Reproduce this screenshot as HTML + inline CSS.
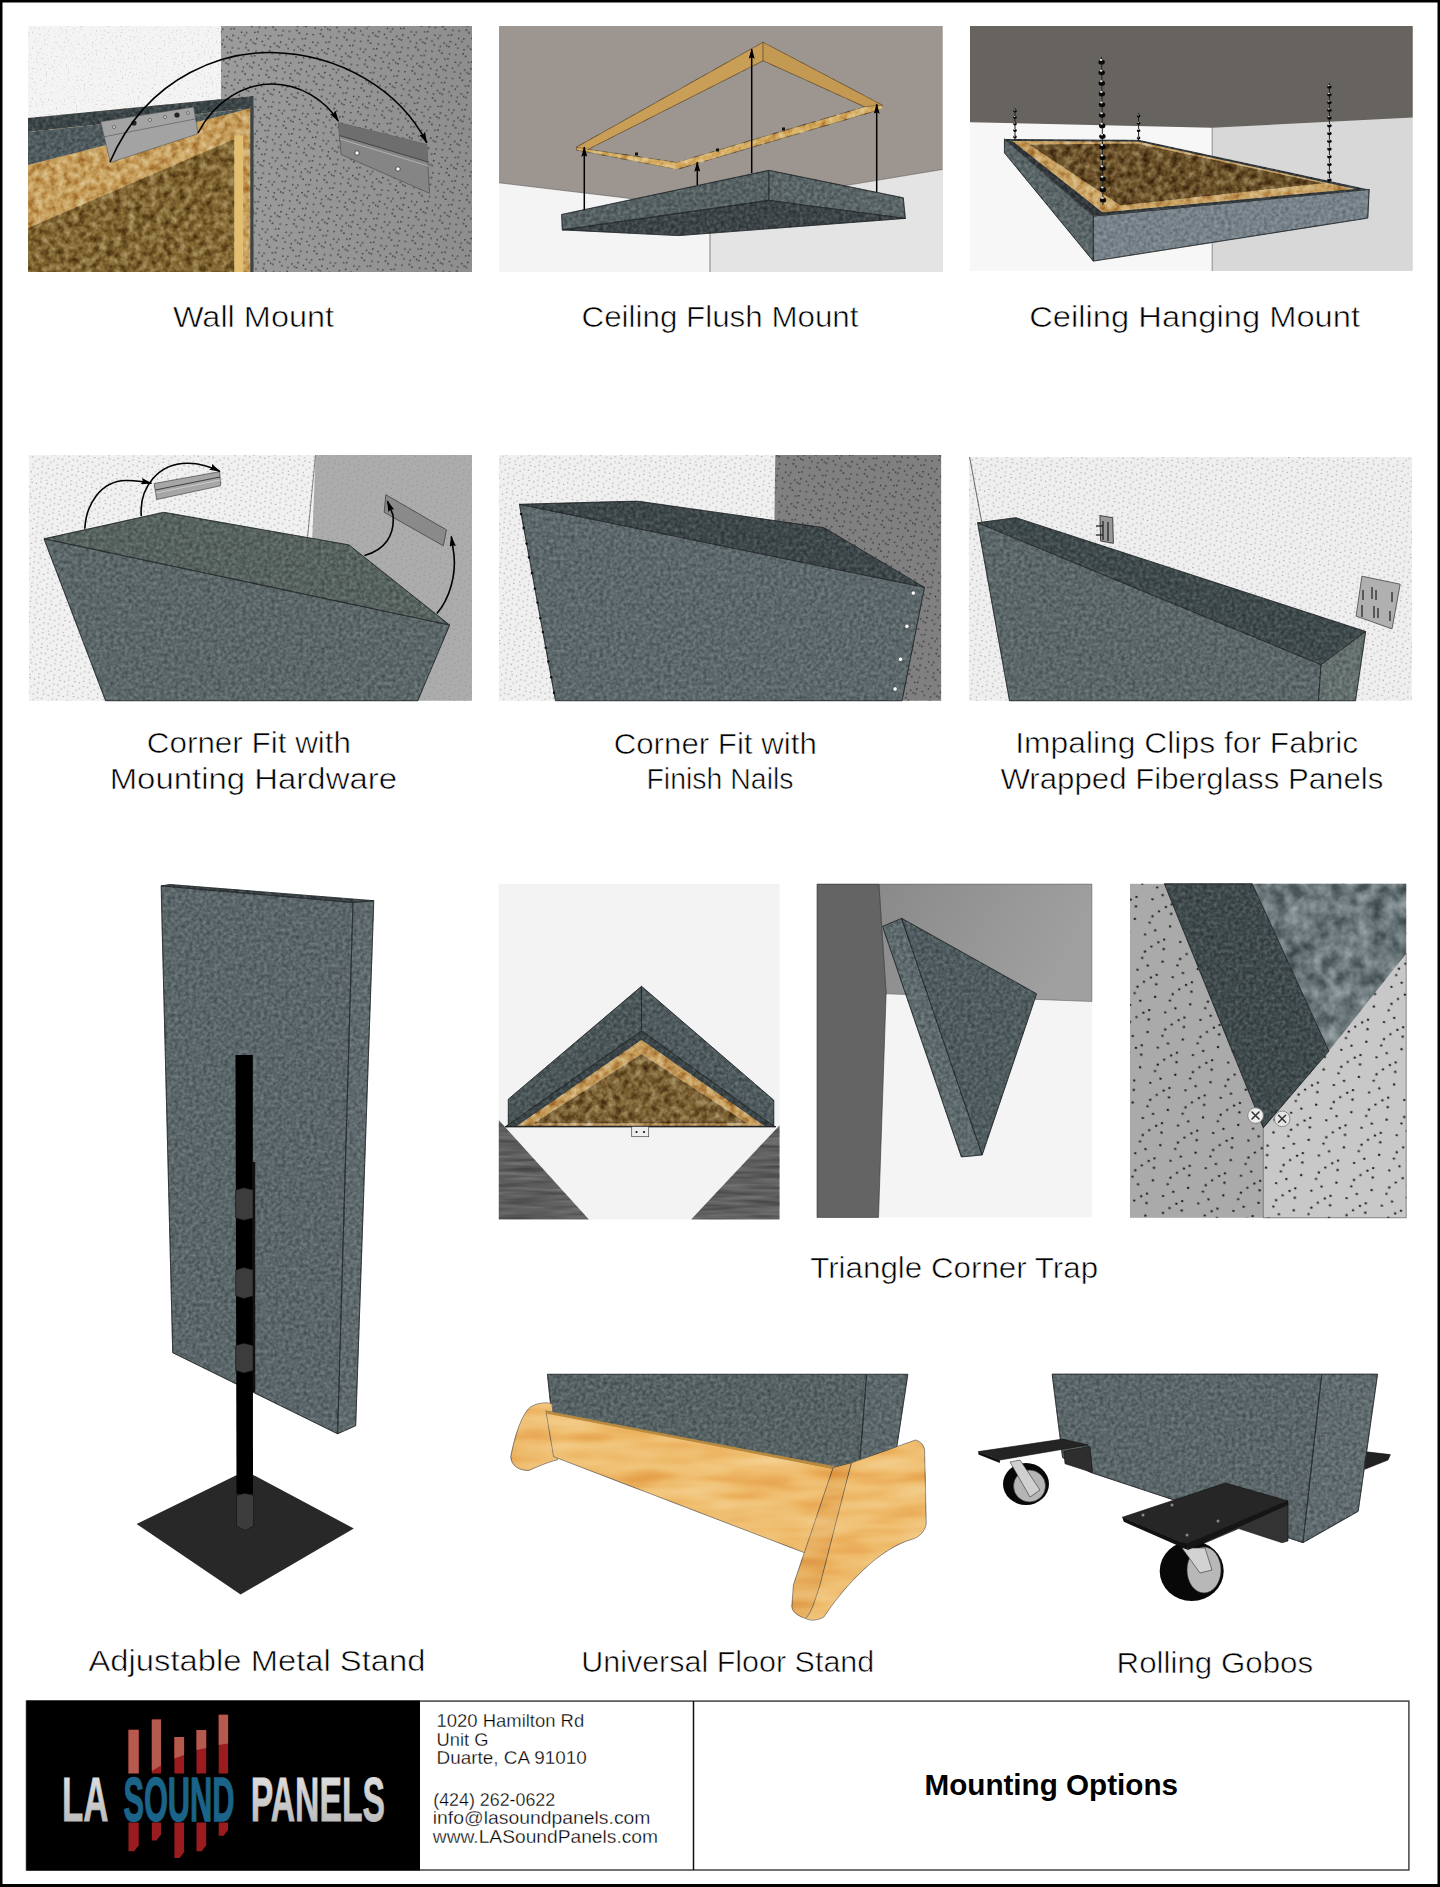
<!DOCTYPE html>
<html><head><meta charset="utf-8">
<style>
html,body{margin:0;padding:0;background:#fff;}
body{width:1440px;height:1887px;position:relative;overflow:hidden;font-family:"Liberation Sans",sans-serif;}
svg{position:absolute;left:0;top:0;}
</style></head>
<body>
<svg width="1440" height="1887" viewBox="0 0 1440 1887">
<defs>
<marker id="ah" viewBox="0 0 14 8" refX="13" refY="4" markerWidth="7" markerHeight="4" orient="auto-start-reverse"><path d="M0,0 L14,4 L0,8 L2,4 z" fill="#000"/></marker>
<filter id="fab" x="0" y="0" width="100%" height="100%" color-interpolation-filters="sRGB">
 <feTurbulence type="fractalNoise" baseFrequency="0.28" numOctaves="2" seed="2" result="t"/>
 <feColorMatrix in="t" type="matrix" values="0.6 0 0 0 0.2  0.6 0 0 0 0.2  0.6 0 0 0 0.2  0 0 0 0 1" result="g"/>
 <feBlend in="g" in2="SourceGraphic" mode="soft-light" result="b"/>
 <feComposite in="b" in2="SourceGraphic" operator="in"/>
</filter>
<filter id="osb" x="0" y="0" width="100%" height="100%" color-interpolation-filters="sRGB">
 <feTurbulence type="fractalNoise" baseFrequency="0.14" numOctaves="3" seed="9" result="t"/>
 <feColorMatrix in="t" type="matrix" values="1.3 0 0 0 -0.15  1.3 0 0 0 -0.15  1.3 0 0 0 -0.15  0 0 0 0 1" result="g"/>
 <feBlend in="g" in2="SourceGraphic" mode="soft-light" result="b"/>
 <feComposite in="b" in2="SourceGraphic" operator="in"/>
</filter>
<filter id="dots" x="0" y="0" width="100%" height="100%" color-interpolation-filters="sRGB">
 <feTurbulence type="fractalNoise" baseFrequency="0.42" numOctaves="1" seed="5" result="t"/>
 <feColorMatrix in="t" type="matrix" values="0 0 0 0 0  0 0 0 0 0  0 0 0 0 0  -7 0 0 0 2.5" result="a"/>
 <feFlood flood-color="#3a3a3a" flood-opacity="0.55" result="f"/>
 <feComposite in="f" in2="a" operator="in" result="fd"/>
 <feComposite in="fd" in2="SourceGraphic" operator="in" result="d"/>
 <feMerge><feMergeNode in="SourceGraphic"/><feMergeNode in="d"/></feMerge>
</filter>
<filter id="bigdots" x="0" y="0" width="100%" height="100%" color-interpolation-filters="sRGB">
 <feTurbulence type="fractalNoise" baseFrequency="0.22" numOctaves="1" seed="11" result="t"/>
 <feColorMatrix in="t" type="matrix" values="0 0 0 0 0  0 0 0 0 0  0 0 0 0 0  -9 0 0 0 2.9" result="a"/>
 <feFlood flood-color="#222" flood-opacity="0.8" result="f"/>
 <feComposite in="f" in2="a" operator="in" result="fd"/>
 <feComposite in="fd" in2="SourceGraphic" operator="in" result="d"/>
 <feMerge><feMergeNode in="SourceGraphic"/><feMergeNode in="d"/></feMerge>
</filter>
<filter id="ldots" x="0" y="0" width="100%" height="100%" color-interpolation-filters="sRGB">
 <feTurbulence type="fractalNoise" baseFrequency="0.5" numOctaves="1" seed="3" result="t"/>
 <feColorMatrix in="t" type="matrix" values="0 0 0 0 0  0 0 0 0 0  0 0 0 0 0  -6 0 0 0 2.4" result="a"/>
 <feFlood flood-color="#666" flood-opacity="0.18" result="f"/>
 <feComposite in="f" in2="a" operator="in" result="fd"/>
 <feComposite in="fd" in2="SourceGraphic" operator="in" result="d"/>
 <feMerge><feMergeNode in="SourceGraphic"/><feMergeNode in="d"/></feMerge>
</filter>
<linearGradient id="lgray" x1="0" y1="0" x2="0" y2="1"><stop offset="0" stop-color="#e6e6e6"/><stop offset="1" stop-color="#b4b4b4"/></linearGradient>
<pattern id="pdots" x="0" y="0" width="36" height="36" patternUnits="userSpaceOnUse" patternTransform="rotate(12)"><ellipse cx="3.6" cy="2.4" rx="1.3" ry="1.1" fill="#1a1a1a"/><ellipse cx="5.1" cy="14.9" rx="1.3" ry="1.1" fill="#1a1a1a"/><ellipse cx="2.1" cy="29.1" rx="1.3" ry="1.1" fill="#1a1a1a"/><ellipse cx="21.8" cy="8.7" rx="1.3" ry="1.1" fill="#1a1a1a"/><ellipse cx="20.4" cy="15.5" rx="1.3" ry="1.1" fill="#1a1a1a"/><ellipse cx="18.3" cy="28.0" rx="1.3" ry="1.1" fill="#1a1a1a"/><ellipse cx="27.1" cy="2.5" rx="1.3" ry="1.1" fill="#1a1a1a"/><ellipse cx="27.4" cy="21.8" rx="1.3" ry="1.1" fill="#1a1a1a"/><ellipse cx="33.0" cy="32.8" rx="1.3" ry="1.1" fill="#1a1a1a"/></pattern>
<filter id="fabbig" x="0" y="0" width="100%" height="100%" color-interpolation-filters="sRGB">
 <feTurbulence type="fractalNoise" baseFrequency="0.07" numOctaves="3" seed="4" result="t"/>
 <feColorMatrix in="t" type="matrix" values="1.2 0 0 0 -0.1  1.2 0 0 0 -0.1  1.2 0 0 0 -0.1  0 0 0 0 1" result="g"/>
 <feBlend in="g" in2="SourceGraphic" mode="soft-light" result="b"/>
 <feComposite in="b" in2="SourceGraphic" operator="in"/>
</filter>
<pattern id="gdots" x="0" y="0" width="24" height="24" patternUnits="userSpaceOnUse" patternTransform="rotate(8)"><circle cx="1.46" cy="4.46" r="0.8" fill="#2a2a2a"/><circle cx="4.11" cy="7.97" r="0.8" fill="#2a2a2a"/><circle cx="2.98" cy="14.79" r="0.8" fill="#2a2a2a"/><circle cx="3.64" cy="22.21" r="0.8" fill="#2a2a2a"/><circle cx="7.29" cy="1.02" r="0.8" fill="#2a2a2a"/><circle cx="10.41" cy="8.72" r="0.8" fill="#2a2a2a"/><circle cx="10.10" cy="12.91" r="0.8" fill="#2a2a2a"/><circle cx="8.77" cy="21.93" r="0.8" fill="#2a2a2a"/><circle cx="13.86" cy="4.87" r="0.8" fill="#2a2a2a"/><circle cx="16.69" cy="7.03" r="0.8" fill="#2a2a2a"/><circle cx="13.01" cy="15.17" r="0.8" fill="#2a2a2a"/><circle cx="16.84" cy="20.50" r="0.8" fill="#2a2a2a"/><circle cx="19.81" cy="2.67" r="0.8" fill="#2a2a2a"/><circle cx="19.02" cy="7.83" r="0.8" fill="#2a2a2a"/><circle cx="20.74" cy="14.98" r="0.8" fill="#2a2a2a"/><circle cx="19.88" cy="19.87" r="0.8" fill="#2a2a2a"/></pattern>
<pattern id="wdots" x="0" y="0" width="15" height="15" patternUnits="userSpaceOnUse" patternTransform="rotate(5)"><circle cx="4.10" cy="4.07" r="0.6" fill="#8a8a8a"/><circle cx="0.95" cy="6.05" r="0.6" fill="#8a8a8a"/><circle cx="3.67" cy="13.33" r="0.6" fill="#8a8a8a"/><circle cx="8.09" cy="1.83" r="0.6" fill="#8a8a8a"/><circle cx="7.87" cy="7.87" r="0.6" fill="#8a8a8a"/><circle cx="7.78" cy="11.30" r="0.6" fill="#8a8a8a"/><circle cx="12.26" cy="2.13" r="0.6" fill="#8a8a8a"/><circle cx="13.28" cy="9.23" r="0.6" fill="#8a8a8a"/><circle cx="14.07" cy="12.65" r="0.6" fill="#8a8a8a"/></pattern>
<filter id="wood" x="0" y="0" width="100%" height="100%" color-interpolation-filters="sRGB">
 <feTurbulence type="fractalNoise" baseFrequency="0.015 0.07" numOctaves="2" seed="12" result="t"/>
 <feColorMatrix in="t" type="matrix" values="0.8 0 0 0 0.1  0.8 0 0 0 0.1  0.8 0 0 0 0.1  0 0 0 0 1" result="g"/>
 <feBlend in="g" in2="SourceGraphic" mode="soft-light" result="b"/>
 <feComposite in="b" in2="SourceGraphic" operator="in"/>
</filter>
<filter id="streak" x="0" y="0" width="100%" height="100%" color-interpolation-filters="sRGB">
 <feTurbulence type="fractalNoise" baseFrequency="0.02 0.25" numOctaves="2" seed="21" result="t"/>
 <feColorMatrix in="t" type="matrix" values="0.6 0 0 0 0.2  0.6 0 0 0 0.2  0.6 0 0 0 0.2  0 0 0 0 1" result="g"/>
 <feBlend in="g" in2="SourceGraphic" mode="soft-light" result="b"/>
 <feComposite in="b" in2="SourceGraphic" operator="in"/>
</filter>
<linearGradient id="ceil9" x1="0" y1="0" x2="1" y2="0.3"><stop offset="0" stop-color="#8a8a8a"/><stop offset="1" stop-color="#a0a0a0"/></linearGradient>
<linearGradient id="wall1" x1="0" y1="0" x2="1" y2="0"><stop offset="0" stop-color="#9c9c9c"/><stop offset="1" stop-color="#8e8e8e"/></linearGradient>
</defs>
<!-- page border -->
<rect x="0" y="0" width="1440" height="2.5" fill="#000"/>
<rect x="0" y="0" width="2.5" height="1887" fill="#000"/>
<rect x="1437.5" y="0" width="2.5" height="1887" fill="#000"/>
<rect x="0" y="1884" width="1440" height="3" fill="#000"/>

<!-- IMG1 wall mount -->
<g id="img1">
<rect x="28" y="26" width="444" height="246" fill="#f4f4f4" filter="url(#ldots)"/>
<rect x="221" y="26" width="251" height="246" fill="url(#wall1)"/><rect x="221" y="26" width="251" height="246" fill="url(#gdots)"/>
<polygon filter="url(#osb)" points="28,118 253.5,96 253.5,272 28,272" fill="#c79f5c"/>
<polygon filter="url(#fab)" points="28,118 253.5,96 250,108.5 28,132" fill="#3b4548"/>
<polygon filter="url(#fab)" points="28,132 250,108.5 28,165" fill="#4f5b5e"/>
<polygon filter="url(#osb)" points="28,228 234.4,139 234.4,272 28,272" fill="#806530"/>
<rect x="234.4" y="135.6" width="8.7" height="136.4" fill="#e3bf72"/>
<rect x="250.3" y="96" width="3.2" height="176" fill="#3b4548"/>
<polygon points="100.7,121.7 193.6,107 198,133.8 110.3,162.5" fill="#a3a3a3" stroke="#555" stroke-width="0.6"/>
<line x1="103" y1="137" x2="195" y2="119" stroke="#666" stroke-width="0.8"/>
<g fill="#ddd" stroke="#333" stroke-width="0.6"><circle cx="114" cy="127" r="1.5"/><circle cx="150" cy="120" r="1.5"/><circle cx="165" cy="117" r="1.5"/><circle cx="188" cy="113" r="1.4"/></g>
<circle cx="134" cy="123" r="2.6" fill="#222"/><circle cx="177" cy="115" r="2.6" fill="#222"/>
<polygon points="338.3,122.6 426.8,144.6 429.5,193.3 341,154.5" fill="#858585" stroke="#444" stroke-width="0.6"/>
<polygon points="338.3,122.6 426.8,144.6 428,162 339.5,135.5" fill="#6e6e6e"/>
<line x1="339.5" y1="135.5" x2="428" y2="162" stroke="#444" stroke-width="1"/>
<line x1="340" y1="139" x2="428.5" y2="166" stroke="#bbb" stroke-width="0.8"/>
<circle cx="357" cy="153" r="2.2" fill="#fff" stroke="#222" stroke-width="0.7"/><circle cx="398" cy="169" r="2.2" fill="#fff" stroke="#222" stroke-width="0.7"/>
<path d="M110,162 C150,70 230,52 272,52.5 C340,54 400,90 426.8,142.8" fill="none" stroke="#000" stroke-width="1.6" marker-end="url(#ah)"/>
<path d="M198,133 C215,100 245,84 272,84 C300,84 325,100 338.3,121" fill="none" stroke="#000" stroke-width="1.6" marker-end="url(#ah)"/>
</g>

<!-- IMG2 ceiling flush -->
<g id="img2">
<rect x="499" y="26" width="443.7" height="246" fill="#9d9590"/>
<polygon points="499,182.8 710,208 942.7,169.4 942.7,272 499,272" fill="#f4f4f4"/>
<polygon points="710,208 942.7,169.4 942.7,272 710,272" fill="#e4e4e4"/>
<line x1="710" y1="208" x2="710" y2="272" stroke="#666" stroke-width="0.8"/>
<polyline points="499,182.8 710,208 942.7,169.4" fill="none" stroke="#555" stroke-width="0.6"/>
<path d="M576.1,147.4 L763.1,42.3 L882.3,105.1 L882.3,109 L676.9,169.5 L576.1,150 Z M588.3,149.2 L676.9,162.2 L864.6,106.7 L763.1,60.7 Z" fill="#d6ae64" fill-rule="evenodd" stroke="#4a3a20" stroke-width="0.6" filter="url(#osb)"/>
<polygon points="763.1,42.3 763.1,60.7 588.3,149.2 576.1,147.4" fill="#c99f58" stroke="#4a3a20" stroke-width="0.5"/>
<polygon points="763.1,42.3 882.3,105.1 864.6,106.7 763.1,60.7" fill="#c49a52" stroke="#4a3a20" stroke-width="0.5"/>
<g fill="#111"><rect x="635" y="152.5" width="3" height="3"/><rect x="716" y="148.5" width="3" height="3"/><rect x="782" y="127.5" width="3" height="3"/></g>

<polygon filter="url(#fab)" points="561.6,214.5 768.9,170.3 768.9,200.4 562.3,229.9" fill="#566164" stroke="#222" stroke-width="0.6"/><polygon points="561.6,214.5 768.9,170.3 768.9,200.4 562.3,229.9" fill="none" stroke="#1e2426" stroke-width="0.7"/>
<polygon filter="url(#fab)" points="768.9,170.3 903.3,197.8 905.3,218.4 768.9,200.4" fill="#5a6568" stroke="#222" stroke-width="0.6"/><polygon points="768.9,170.3 903.3,197.8 905.3,218.4 768.9,200.4" fill="none" stroke="#1e2426" stroke-width="0.7"/>
<polygon filter="url(#fab)" points="562.3,229.9 768.9,200.4 905.3,218.4 678.5,235.6" fill="#3c4447" stroke="#222" stroke-width="0.6"/><polygon points="562.3,229.9 768.9,200.4 905.3,218.4 678.5,235.6" fill="none" stroke="#1e2426" stroke-width="0.7"/>
<g stroke="#000" stroke-width="1.5" marker-end="url(#ah)">
<line x1="584.3" y1="210" x2="584.3" y2="147"/>
<line x1="697.3" y1="185" x2="697.3" y2="162"/>
<line x1="751.7" y1="173" x2="751.7" y2="49"/>
<line x1="876.7" y1="192" x2="876.7" y2="104"/>
</g>
</g>

<!-- IMG3 ceiling hanging -->
<g id="img3">
<rect x="970" y="26" width="442.7" height="245" fill="#f7f7f7"/>
<rect x="1212.2" y="26" width="200.5" height="245" fill="#d8d8d8"/>
<line x1="1212.2" y1="127" x2="1212.2" y2="271" stroke="#777" stroke-width="0.8"/>
<polygon points="970,26 1412.7,26 1412.7,117.5 1212.2,127.8 970,122.2" fill="#67635e"/>
<polygon filter="url(#fab)" points="1004.4,138.9 1138.6,139.7 1369.2,189.4 1093.3,216.1" fill="#2f3538"/>
<polygon filter="url(#osb)" points="1012.2,141 1138,141.5 1355.3,188.9 1102.5,212.5" fill="#c9a262"/>
<polygon filter="url(#osb)" points="1028.9,144.4 1137.2,143.6 1323.3,183.3 1120.6,205.6" fill="#6a5028"/>
<polygon filter="url(#fab)" points="1093.3,216.1 1369.2,189.4 1367.8,218.1 1093.3,261.1" fill="#77828a" stroke="#222" stroke-width="0.6"/><polygon points="1093.3,216.1 1369.2,189.4 1367.8,218.1 1093.3,261.1" fill="none" stroke="#1e2426" stroke-width="0.7"/>
<polygon filter="url(#fab)" points="1004.4,138.9 1093.3,216.1 1093.3,261.1 1004.4,152.8" fill="#5a6568" stroke="#222" stroke-width="0.6"/><polygon points="1004.4,138.9 1093.3,216.1 1093.3,261.1 1004.4,152.8" fill="none" stroke="#1e2426" stroke-width="0.7"/>
<g id="chains"><g stroke="#222" stroke-width="1"><line x1="1101.6" y1="57" x2="1103" y2="205"/><line x1="1015" y1="108" x2="1015" y2="139"/><line x1="1138.6" y1="113" x2="1138.6" y2="140"/><line x1="1329.4" y1="83" x2="1329.4" y2="183"/></g><ellipse cx="1101.6" cy="62.0" rx="3.2" ry="2.6" fill="#080808"/><ellipse cx="1101.0" cy="60.1" rx="1.4" ry="1.0" fill="#ddd"/><ellipse cx="1101.7" cy="72.6" rx="3.2" ry="2.6" fill="#080808"/><ellipse cx="1101.1" cy="70.7" rx="1.4" ry="1.0" fill="#ddd"/><ellipse cx="1101.8" cy="83.2" rx="3.2" ry="2.6" fill="#080808"/><ellipse cx="1101.2" cy="81.3" rx="1.4" ry="1.0" fill="#ddd"/><ellipse cx="1101.9" cy="93.8" rx="3.2" ry="2.6" fill="#080808"/><ellipse cx="1101.3" cy="91.9" rx="1.4" ry="1.0" fill="#ddd"/><ellipse cx="1102.0" cy="104.5" rx="3.2" ry="2.6" fill="#080808"/><ellipse cx="1101.4" cy="102.5" rx="1.4" ry="1.0" fill="#ddd"/><ellipse cx="1102.1" cy="115.1" rx="3.2" ry="2.6" fill="#080808"/><ellipse cx="1101.5" cy="113.2" rx="1.4" ry="1.0" fill="#ddd"/><ellipse cx="1102.2" cy="125.7" rx="3.2" ry="2.6" fill="#080808"/><ellipse cx="1101.6" cy="123.8" rx="1.4" ry="1.0" fill="#ddd"/><ellipse cx="1102.4" cy="136.3" rx="3.2" ry="2.6" fill="#080808"/><ellipse cx="1101.7" cy="134.4" rx="1.4" ry="1.0" fill="#ddd"/><ellipse cx="1102.5" cy="146.9" rx="3.2" ry="2.6" fill="#080808"/><ellipse cx="1101.8" cy="145.0" rx="1.4" ry="1.0" fill="#ddd"/><ellipse cx="1102.6" cy="157.5" rx="3.2" ry="2.6" fill="#080808"/><ellipse cx="1101.9" cy="155.6" rx="1.4" ry="1.0" fill="#ddd"/><ellipse cx="1102.7" cy="168.2" rx="3.2" ry="2.6" fill="#080808"/><ellipse cx="1102.0" cy="166.2" rx="1.4" ry="1.0" fill="#ddd"/><ellipse cx="1102.8" cy="178.8" rx="3.2" ry="2.6" fill="#080808"/><ellipse cx="1102.1" cy="176.8" rx="1.4" ry="1.0" fill="#ddd"/><ellipse cx="1102.9" cy="189.4" rx="3.2" ry="2.6" fill="#080808"/><ellipse cx="1102.3" cy="187.5" rx="1.4" ry="1.0" fill="#ddd"/><ellipse cx="1103.0" cy="200.0" rx="3.2" ry="2.6" fill="#080808"/><ellipse cx="1102.4" cy="198.1" rx="1.4" ry="1.0" fill="#ddd"/><ellipse cx="1015.0" cy="111.0" rx="1.8" ry="1.4" fill="#080808"/><ellipse cx="1014.6" cy="109.9" rx="0.8" ry="0.5" fill="#ddd"/><ellipse cx="1015.0" cy="117.5" rx="1.8" ry="1.4" fill="#080808"/><ellipse cx="1014.6" cy="116.4" rx="0.8" ry="0.5" fill="#ddd"/><ellipse cx="1015.0" cy="124.0" rx="1.8" ry="1.4" fill="#080808"/><ellipse cx="1014.6" cy="122.9" rx="0.8" ry="0.5" fill="#ddd"/><ellipse cx="1015.0" cy="130.5" rx="1.8" ry="1.4" fill="#080808"/><ellipse cx="1014.6" cy="129.4" rx="0.8" ry="0.5" fill="#ddd"/><ellipse cx="1015.0" cy="137.0" rx="1.8" ry="1.4" fill="#080808"/><ellipse cx="1014.6" cy="135.9" rx="0.8" ry="0.5" fill="#ddd"/><ellipse cx="1138.6" cy="116.0" rx="1.8" ry="1.4" fill="#080808"/><ellipse cx="1138.2" cy="114.9" rx="0.8" ry="0.5" fill="#ddd"/><ellipse cx="1138.6" cy="123.3" rx="1.8" ry="1.4" fill="#080808"/><ellipse cx="1138.2" cy="122.3" rx="0.8" ry="0.5" fill="#ddd"/><ellipse cx="1138.6" cy="130.7" rx="1.8" ry="1.4" fill="#080808"/><ellipse cx="1138.2" cy="129.6" rx="0.8" ry="0.5" fill="#ddd"/><ellipse cx="1138.6" cy="138.0" rx="1.8" ry="1.4" fill="#080808"/><ellipse cx="1138.2" cy="136.9" rx="0.8" ry="0.5" fill="#ddd"/><ellipse cx="1329.4" cy="87.0" rx="2.3" ry="1.8" fill="#080808"/><ellipse cx="1328.9" cy="85.6" rx="1.0" ry="0.7" fill="#ddd"/><ellipse cx="1329.4" cy="94.8" rx="2.3" ry="1.8" fill="#080808"/><ellipse cx="1328.9" cy="93.4" rx="1.0" ry="0.7" fill="#ddd"/><ellipse cx="1329.4" cy="102.5" rx="2.3" ry="1.8" fill="#080808"/><ellipse cx="1328.9" cy="101.1" rx="1.0" ry="0.7" fill="#ddd"/><ellipse cx="1329.4" cy="110.2" rx="2.3" ry="1.8" fill="#080808"/><ellipse cx="1328.9" cy="108.9" rx="1.0" ry="0.7" fill="#ddd"/><ellipse cx="1329.4" cy="118.0" rx="2.3" ry="1.8" fill="#080808"/><ellipse cx="1328.9" cy="116.6" rx="1.0" ry="0.7" fill="#ddd"/><ellipse cx="1329.4" cy="125.8" rx="2.3" ry="1.8" fill="#080808"/><ellipse cx="1328.9" cy="124.4" rx="1.0" ry="0.7" fill="#ddd"/><ellipse cx="1329.4" cy="133.5" rx="2.3" ry="1.8" fill="#080808"/><ellipse cx="1328.9" cy="132.1" rx="1.0" ry="0.7" fill="#ddd"/><ellipse cx="1329.4" cy="141.2" rx="2.3" ry="1.8" fill="#080808"/><ellipse cx="1328.9" cy="139.9" rx="1.0" ry="0.7" fill="#ddd"/><ellipse cx="1329.4" cy="149.0" rx="2.3" ry="1.8" fill="#080808"/><ellipse cx="1328.9" cy="147.6" rx="1.0" ry="0.7" fill="#ddd"/><ellipse cx="1329.4" cy="156.8" rx="2.3" ry="1.8" fill="#080808"/><ellipse cx="1328.9" cy="155.4" rx="1.0" ry="0.7" fill="#ddd"/><ellipse cx="1329.4" cy="164.5" rx="2.3" ry="1.8" fill="#080808"/><ellipse cx="1328.9" cy="163.1" rx="1.0" ry="0.7" fill="#ddd"/><ellipse cx="1329.4" cy="172.2" rx="2.3" ry="1.8" fill="#080808"/><ellipse cx="1328.9" cy="170.9" rx="1.0" ry="0.7" fill="#ddd"/><ellipse cx="1329.4" cy="180.0" rx="2.3" ry="1.8" fill="#080808"/><ellipse cx="1328.9" cy="178.6" rx="1.0" ry="0.7" fill="#ddd"/></g>
</g>

<!-- IMG4 corner fit hardware -->
<g id="img4">
<rect x="28.9" y="455.1" width="443.1" height="245.7" fill="#f1f1f1"/><rect x="28.9" y="455.1" width="443.1" height="245.7" fill="url(#wdots)"/>
<polygon points="315.5,455.1 472,455.1 472,700.8 306,700.8" fill="#acacac"/><polygon points="315.5,455.1 472,455.1 472,700.8 306,700.8" fill="url(#wdots)"/>
<line x1="315.5" y1="455.1" x2="307.5" y2="537.8" stroke="#555" stroke-width="0.7"/>
<polygon filter="url(#fab)" points="44,538.8 163.8,512.3 349,544.9 449.7,625.1" fill="#57635f" stroke="#222" stroke-width="0.6"/><polygon points="44,538.8 163.8,512.3 349,544.9 449.7,625.1" fill="none" stroke="#1e2426" stroke-width="0.7"/>
<polygon filter="url(#fab)" points="44,538.8 449.7,625.1 417.7,700.8 105.6,700.8" fill="#5b6769" stroke="#222" stroke-width="0.6"/><polygon points="44,538.8 449.7,625.1 417.7,700.8 105.6,700.8" fill="none" stroke="#1e2426" stroke-width="0.7"/>
<polygon points="154.2,483.5 219.7,471.7 220.6,485.8 156.7,499.5" fill="#a6a6a6" stroke="#444" stroke-width="0.7"/><line x1="155.3" y1="490" x2="220" y2="477" stroke="#333" stroke-width="0.9"/><line x1="155.6" y1="493" x2="220.2" y2="480" stroke="#ddd" stroke-width="0.7"/>
<polygon points="385.8,494.7 446.5,529.9 443.3,545.8 384.2,512.3" fill="#8a8a8a" stroke="#333" stroke-width="0.7"/>
<g fill="none" stroke="#000" stroke-width="1.6" marker-end="url(#ah)">
<path d="M84.8,528.8 C86,505 100,481 126,480.5 C135,480.3 143,481.5 151.5,483.3"/>
<path d="M141.3,516.2 C139,488 158,463 188,463.3 C200,463.5 211,467 219.9,471.5"/>
<path d="M364.4,555.4 C385,550 395,535 393,515 L387.4,501.1"/>
<path d="M436.9,613.6 C450,598 456,575 454,555 L451.3,536.3"/>
</g>
</g>

<!-- IMG5 corner fit nails -->
<g id="img5">
<rect x="498.9" y="455.1" width="442.2" height="245.7" fill="#f0f0f0"/><rect x="498.9" y="455.1" width="442.2" height="245.7" fill="url(#wdots)"/>
<polygon points="775.3,455.1 941.1,455.1 941.1,700.8 772,700.8" fill="#808080"/><polygon points="775.3,455.1 941.1,455.1 941.1,700.8 772,700.8" fill="url(#gdots)"/>
<polygon filter="url(#fab)" points="519.4,504.3 637,501.1 823.9,527.6 924.5,587.4" fill="#3d4749" stroke="#222" stroke-width="0.6"/><polygon points="519.4,504.3 637,501.1 823.9,527.6 924.5,587.4" fill="none" stroke="#1e2426" stroke-width="0.7"/>
<polygon filter="url(#fab)" points="519.4,504.3 924.5,587.4 902.1,700.8 555.5,700.8" fill="#5c686b" stroke="#222" stroke-width="0.6"/><polygon points="519.4,504.3 924.5,587.4 902.1,700.8 555.5,700.8" fill="none" stroke="#1e2426" stroke-width="0.7"/>
<circle cx="521.2" cy="514.1" r="1.3" fill="#111"/><circle cx="523.7" cy="527.9" r="1.3" fill="#111"/><circle cx="526.6" cy="543.6" r="1.3" fill="#111"/><circle cx="529.1" cy="557.4" r="1.3" fill="#111"/><circle cx="532.0" cy="573.1" r="1.3" fill="#111"/><circle cx="534.9" cy="588.8" r="1.3" fill="#111"/><circle cx="537.5" cy="602.5" r="1.3" fill="#111"/><circle cx="540.3" cy="618.3" r="1.3" fill="#111"/><circle cx="542.9" cy="632.0" r="1.3" fill="#111"/><circle cx="545.8" cy="647.7" r="1.3" fill="#111"/><circle cx="548.3" cy="661.5" r="1.3" fill="#111"/><circle cx="551.2" cy="677.2" r="1.3" fill="#111"/><circle cx="554.1" cy="692.9" r="1.3" fill="#111"/>
<g fill="#fff" stroke="#333" stroke-width="0.6">
<circle cx="913.3" cy="593.1" r="2.2"/><circle cx="906.9" cy="626.3" r="2.2"/><circle cx="900.5" cy="659.3" r="2.2"/><circle cx="895.1" cy="689" r="2.2"/>
</g>
</g>

<!-- IMG6 impaling clips -->
<g id="img6">
<rect x="968.9" y="457" width="443.1" height="243.8" fill="#efefef"/><rect x="968.9" y="457" width="443.1" height="243.8" fill="url(#wdots)"/>
<line x1="969.6" y1="457" x2="981.7" y2="521.9" stroke="#444" stroke-width="0.8"/>
<polygon filter="url(#fab)" points="977.6,522.8 1015.9,517.7 1365.7,631.5 1321,664.7" fill="#3f4a4c" stroke="#222" stroke-width="0.6"/><polygon points="977.6,522.8 1015.9,517.7 1365.7,631.5 1321,664.7" fill="none" stroke="#1e2426" stroke-width="0.7"/>
<polygon filter="url(#fab)" points="977.6,522.8 1321,664.7 1318.4,700.8 1009.5,700.8" fill="#5b6769" stroke="#222" stroke-width="0.6"/><polygon points="977.6,522.8 1321,664.7 1318.4,700.8 1009.5,700.8" fill="none" stroke="#1e2426" stroke-width="0.7"/>
<polygon filter="url(#fab)" points="1321,664.7 1365.7,631.5 1355.5,700.8 1318.4,700.8" fill="#65716f" stroke="#222" stroke-width="0.6"/><polygon points="1321,664.7 1365.7,631.5 1355.5,700.8 1318.4,700.8" fill="none" stroke="#1e2426" stroke-width="0.7"/>
<polygon points="1099.9,515.5 1112.7,517.7 1113.4,543.3 1100.6,541" fill="#999" stroke="#222" stroke-width="0.8"/>
<g stroke="#222" stroke-width="1.3"><line x1="1103" y1="521" x2="1103" y2="540"/><line x1="1108" y1="522" x2="1108" y2="541"/><line x1="1096" y1="526" x2="1103" y2="526"/><line x1="1096" y1="535" x2="1103" y2="535"/></g>
<polygon points="1361.9,576.2 1400.2,584.2 1392,628.9 1356.1,616.1" fill="#b0b0b0" stroke="#444" stroke-width="0.8"/>
<g stroke="#333" stroke-width="1.4" fill="none">
<path d="M1363,590 v10 M1372,587 v12 M1376,590 v10 M1392,592 v10 M1362,605 v12 M1374,606 v12 M1378,608 v10 M1390,611 v10"/>
</g>
</g>

<!-- IMG7 metal stand -->
<g id="img7">
<polygon filter="url(#fab)" points="161.1,885.9 353,902.5 337.6,1433.8 172.7,1352.7" fill="#5a6669" stroke="#222" stroke-width="0.6"/><polygon points="161.1,885.9 353,902.5 337.6,1433.8 172.7,1352.7" fill="none" stroke="#1e2426" stroke-width="0.7"/>
<polygon filter="url(#fab)" points="353,902.5 373.8,900.7 355.7,1425.7 337.6,1433.8" fill="#5e6a6d" stroke="#222" stroke-width="0.6"/><polygon points="353,902.5 373.8,900.7 355.7,1425.7 337.6,1433.8" fill="none" stroke="#1e2426" stroke-width="0.7"/>
<polygon filter="url(#fab)" points="161.1,885.9 170,884.5 373.8,900.7 353,902.5" fill="#3a4446" stroke="#222" stroke-width="0.5"/><polygon points="161.1,885.9 170,884.5 373.8,900.7 353,902.5" fill="none" stroke="#1e2426" stroke-width="0.7"/>
<polygon points="136.6,1524 245.5,1470.8 353.8,1528.5 240.6,1594.5" fill="#282828"/>
<rect x="253" y="1162" width="2.2" height="230" fill="#111"/>
<polygon points="235.5,1055 252.8,1055 253,1494 236.5,1494" fill="#000"/>
<g fill="#3c3c3c" stroke="#111" stroke-width="0.6">
<polygon points="235.7,1190 244,1187.8 253,1190 253,1218 244,1220.3 235.7,1218"/>
<polygon points="235.7,1270 244,1267.6 253,1270 253,1296 244,1298.6 235.7,1296"/>
<polygon points="235.7,1345.5 244,1343.2 253,1345.5 253,1370.5 244,1373 235.7,1370.5"/>
<polygon points="236.5,1495.5 245,1493.3 253.6,1495.5 253.6,1526 245,1530.4 236.5,1526"/>
</g>
</g>

<!-- IMG8 triangle 1 -->
<g id="img8">
<rect x="498.75" y="883.8" width="280.85" height="335.8" fill="#f3f3f3"/>
<polygon filter="url(#fab)" points="641.5,986.3 641.5,1030.8 505.6,1126.7 508.3,1126.7 508.3,1099.2" fill="#4b5659" stroke="#222" stroke-width="0.6"/><polygon points="641.5,986.3 641.5,1030.8 505.6,1126.7 508.3,1126.7 508.3,1099.2" fill="none" stroke="#1e2426" stroke-width="0.7"/>
<polygon filter="url(#fab)" points="641.5,986.3 773.75,1100.2 773.75,1126.7 774.4,1126.7 641.5,1030.8" fill="#4e5a5d" stroke="#222" stroke-width="0.6"/><polygon points="641.5,986.3 773.75,1100.2 773.75,1126.7 774.4,1126.7 641.5,1030.8" fill="none" stroke="#1e2426" stroke-width="0.7"/>
<polygon filter="url(#fab)" points="641.5,1030.8 774.4,1126.7 505.6,1126.7" fill="#3a4446" stroke="#222" stroke-width="0.6"/><polygon points="641.5,1030.8 774.4,1126.7 505.6,1126.7" fill="none" stroke="#1e2426" stroke-width="0.7"/>
<polygon filter="url(#osb)" points="641.5,1039.8 764.6,1125.8 517.1,1125.8" fill="#c49a58"/>
<polygon filter="url(#osb)" points="641.5,1054.4 746.25,1123.1 534.8,1123.1" fill="#7b6032" stroke="#333" stroke-width="0.5"/>
<line x1="505" y1="1126.7" x2="776" y2="1126.7" stroke="#222" stroke-width="1.2"/>
<rect x="631.7" y="1126.7" width="17" height="10" fill="#eee" stroke="#444" stroke-width="0.7"/>
<circle cx="636.5" cy="1132" r="1.1" fill="#111"/><circle cx="644" cy="1132" r="1.1" fill="#111"/>
<polygon filter="url(#streak)" points="498.75,1120 589,1219.6 498.75,1219.6" fill="#5e5e5e"/>
<polygon filter="url(#streak)" points="779.6,1125.2 779.6,1219.6 691,1219.6" fill="#5e5e5e"/>
</g>

<!-- IMG9 triangle 2 -->
<g id="img9">
<rect x="817" y="884.1" width="274.9" height="333.3" fill="#f4f4f4"/>
<polygon points="878.9,884.1 1091.9,884.1 1091.9,1001.5 886.1,993.8" fill="url(#ceil9)" stroke="#555" stroke-width="0.5"/>
<polygon points="817,884.1 878.9,884.1 886.1,993.8 878.5,1217.4 817,1217.4" fill="#646464" stroke="#333" stroke-width="0.6"/>
<polygon filter="url(#fab)" points="882.5,926.4 901.6,918.3 982.2,1154.9 961.4,1157" fill="#5e6b6e" stroke="#222" stroke-width="0.6"/><polygon points="882.5,926.4 901.6,918.3 982.2,1154.9 961.4,1157" fill="none" stroke="#1e2426" stroke-width="0.7"/>
<polygon filter="url(#fab)" points="901.6,918.3 1036.6,993.8 982.2,1154.9" fill="#4f5c5f" stroke="#222" stroke-width="0.6"/><polygon points="901.6,918.3 1036.6,993.8 982.2,1154.9" fill="none" stroke="#1e2426" stroke-width="0.7"/>
</g>

<!-- IMG10 closeup -->
<g id="img10">
<rect x="1130" y="883.8" width="276.2" height="334" fill="#aaaaaa"/>
<rect x="1130" y="883.8" width="276.2" height="334" fill="url(#pdots)"/>
<polygon points="1263.3,1127.8 1406.2,953.3 1406.2,1217.8 1263.3,1217.8" fill="#c8c8c8" stroke="#555" stroke-width="0.6"/>
<polygon points="1263.3,1127.8 1406.2,953.3 1406.2,1217.8 1263.3,1217.8" fill="url(#pdots)"/>
<polygon filter="url(#fabbig)" points="1252.2,883.8 1406.2,883.8 1406.2,953.3 1328.9,1051.1" fill="#6b787c"/>
<polygon filter="url(#fab)" points="1164.4,883.8 1252.2,883.8 1328.9,1051.1 1263.3,1127.8" fill="#3f4a4d" stroke="#222" stroke-width="0.6"/><polygon points="1164.4,883.8 1252.2,883.8 1328.9,1051.1 1263.3,1127.8" fill="none" stroke="#1e2426" stroke-width="0.7"/>
<g stroke="#777" stroke-width="0.8"><circle cx="1255.6" cy="1115.6" r="7.8" fill="#eeeeee"/><circle cx="1282.2" cy="1118.9" r="7.8" fill="#e4e4e4"/></g>
<g stroke="#333" stroke-width="1.6" stroke-linecap="round"><path d="M1252,1112 l7,7 M1259,1112 l-7,7"/><path d="M1278.6,1115.3 l7,7 M1285.6,1115.3 l-7,7"/></g>
</g>

<!-- IMG11 floor stand -->
<g id="img11">
<polygon filter="url(#fab)" points="547.4,1374.2 866.7,1374.2 859,1472 552,1418" fill="#566264" stroke="#222" stroke-width="0.6"/><polygon points="547.4,1374.2 866.7,1374.2 859,1472 552,1418" fill="none" stroke="#1e2426" stroke-width="0.7"/>
<polygon filter="url(#fab)" points="866.7,1374.2 907.9,1374.2 896,1452 859,1472" fill="#5b676a" stroke="#222" stroke-width="0.6"/><polygon points="866.7,1374.2 907.9,1374.2 896,1452 859,1472" fill="none" stroke="#1e2426" stroke-width="0.7"/>
<path filter="url(#wood)" d="M510.7,1456.7 C515,1435 522,1412 532,1406 C540,1402 548,1402 552,1404 L558,1459.7 C545,1463 535,1468 529,1470.4 C520,1471 511,1466 510.7,1456.7 Z" fill="#eebb6c" stroke="#333" stroke-width="0.6"/>
<polygon filter="url(#wood)" points="545.8,1410.8 836.1,1468.9 805,1553 553.5,1456.7" fill="#efbd6e" stroke="#333" stroke-width="0.6"/>
<polygon points="545.8,1410.8 836.1,1466.5 836.1,1469.5 546,1413.5" fill="#b88a40"/>
<path filter="url(#wood)" d="M851.4,1462.8 L915.6,1439.9 C922,1442 925,1447 924.7,1452.1 L926.3,1523.9 C925,1532 918,1538 912.5,1539.2 C880,1548 845,1585 823.9,1617.1 C817,1621 810,1621 805.6,1618.6 Z" fill="#efbd6e" stroke="#333" stroke-width="0.6"/>
<path filter="url(#wood)" d="M833.1,1467.4 L851.4,1462.8 L820,1585 C815,1600 812,1612 805.6,1618.6 C798,1616 792,1612 791.8,1606.4 L793.3,1585 Z" fill="#e8b060" stroke="#333" stroke-width="0.6"/>
</g>

<!-- IMG12 rolling gobos -->
<g id="img12">
<polygon points="1364.2,1451.6 1390.4,1454.6 1388,1460 1364.2,1469.5" fill="#222" stroke="#111" stroke-width="0.6"/>
<polygon filter="url(#fab)" points="1052.1,1374 1321.8,1374 1303,1542.7 1090.9,1472.5 1062.6,1457.6" fill="#5a6669" stroke="#222" stroke-width="0.6"/><polygon points="1052.1,1374 1321.8,1374 1303,1542.7 1090.9,1472.5 1062.6,1457.6" fill="none" stroke="#1e2426" stroke-width="0.7"/>
<polygon filter="url(#fab)" points="1321.8,1374 1377.6,1374 1358.2,1511.3 1303,1542.7" fill="#5f6b6e" stroke="#222" stroke-width="0.6"/><polygon points="1321.8,1374 1377.6,1374 1358.2,1511.3 1303,1542.7" fill="none" stroke="#1e2426" stroke-width="0.7"/>
<polygon points="1063.75,1451.25 1090,1446.25 1092.5,1472.5 1065,1463.75" fill="#2e2e2e" stroke="#111" stroke-width="0.6"/>
<ellipse cx="1026" cy="1484" rx="23" ry="21" fill="#080808"/>
<ellipse cx="1029.5" cy="1486" rx="16" ry="16" fill="#b5b5b5" stroke="#333" stroke-width="0.6"/>
<polygon points="1010,1462 1020,1460 1040,1490 1030,1497" fill="#d0d0d0" stroke="#333" stroke-width="0.6"/>
<polygon points="978.4,1451.6 1062.6,1439.1 1088,1445 999.9,1460" fill="#242424" stroke="#111" stroke-width="0.6"/>
<polygon points="978.4,1451.6 999.9,1460 999.9,1463 978.4,1454.5" fill="#111"/>
<polygon points="1186,1544 1288,1500.9 1288,1541 1282,1542.7 1238.7,1528.6 1200,1545" fill="#333" stroke="#111" stroke-width="0.6"/>
<ellipse cx="1191.7" cy="1571" rx="32" ry="30" fill="#080808"/>
<ellipse cx="1204" cy="1570" rx="17" ry="23" fill="#b8b8b8" stroke="#333" stroke-width="0.6"/>
<polygon points="1182,1548 1205,1548 1212,1570 1200,1573" fill="#d2d2d2" stroke="#333" stroke-width="0.6"/>
<polygon points="1122.3,1517.3 1225.3,1483 1288,1500.9 1186.5,1544.2" fill="#262626" stroke="#111" stroke-width="0.6"/>
<polygon points="1122.3,1517.3 1186.5,1544.2 1188,1550.1 1123.8,1521.8" fill="#111"/>
<polygon points="1186.5,1544.2 1288,1500.9 1288,1505 1188,1550.1" fill="#151515"/>
<g fill="#888"><circle cx="1143" cy="1515" r="1.5"/><circle cx="1172" cy="1505" r="1.5"/><circle cx="1187" cy="1535" r="1.5"/><circle cx="1218" cy="1521" r="1.5"/></g>
</g>

<g id="captions" font-family="Liberation Sans, sans-serif" font-size="30" fill="#000" stroke="#fff" stroke-width="0.6">
<text x="172.9" y="326.7" textLength="161.2" lengthAdjust="spacingAndGlyphs">Wall Mount</text>
<text x="581.5" y="327.1" textLength="277.0" lengthAdjust="spacingAndGlyphs">Ceiling Flush Mount</text>
<text x="1029.2" y="327.0" textLength="330.9" lengthAdjust="spacingAndGlyphs">Ceiling Hanging Mount</text>
<text x="146.8" y="753.3" textLength="204.2" lengthAdjust="spacingAndGlyphs">Corner Fit with</text>
<text x="109.7" y="788.9" textLength="287.3" lengthAdjust="spacingAndGlyphs">Mounting Hardware</text>
<text x="613.7" y="753.7" textLength="203.1" lengthAdjust="spacingAndGlyphs">Corner Fit with</text>
<text x="646.5" y="789.2" textLength="147.0" lengthAdjust="spacingAndGlyphs">Finish Nails</text>
<text x="1015.2" y="753.3" textLength="343.1" lengthAdjust="spacingAndGlyphs">Impaling Clips for Fabric</text>
<text x="1000.4" y="789.2" textLength="383.0" lengthAdjust="spacingAndGlyphs">Wrapped Fiberglass Panels</text>
<text x="810.2" y="1277.7" textLength="287.9" lengthAdjust="spacingAndGlyphs">Triangle Corner Trap</text>
<text x="88.5" y="1671.3" textLength="337.0" lengthAdjust="spacingAndGlyphs">Adjustable Metal Stand</text>
<text x="581.2" y="1671.8" textLength="293.1" lengthAdjust="spacingAndGlyphs">Universal Floor Stand</text>
<text x="1116.6" y="1672.8" textLength="196.5" lengthAdjust="spacingAndGlyphs">Rolling Gobos</text>
</g>
<!-- footer -->
<rect x="26.5" y="1701.1" width="1382.4" height="168.9" fill="none" stroke="#444" stroke-width="1.5"/>
<rect x="26.5" y="1700.5" width="393.5" height="170" fill="#000"/>
<line x1="693.5" y1="1701" x2="693.5" y2="1870" stroke="#111" stroke-width="1.5"/>
<g id="footertext" font-family="Liberation Sans, sans-serif" font-size="17.5" fill="#000" stroke="#fff" stroke-width="0.3">
<text x="436.5" y="1727.2" textLength="147.7" lengthAdjust="spacingAndGlyphs">1020 Hamilton Rd</text>
<text x="436.5" y="1745.5" textLength="52.0" lengthAdjust="spacingAndGlyphs">Unit G</text>
<text x="436.5" y="1763.8" textLength="150.3" lengthAdjust="spacingAndGlyphs">Duarte, CA 91010</text>
<text x="433.2" y="1805.8" textLength="122.0" lengthAdjust="spacingAndGlyphs">(424) 262-0622</text>
<text x="432.8" y="1824.2" textLength="217.7" lengthAdjust="spacingAndGlyphs">info@lasoundpanels.com</text>
<text x="432.8" y="1842.5" textLength="225.2" lengthAdjust="spacingAndGlyphs">www.LASoundPanels.com</text>
</g>
<text x="924.5" y="1795.4" textLength="253.5" lengthAdjust="spacingAndGlyphs" font-family="Liberation Sans, sans-serif" font-size="30" font-weight="bold" fill="#000">Mounting Options</text>
<g id="logo">
<polygon points="128.5,1729.8 138.7,1729.8 138.7,1845.3 134.2,1851.3 128.5,1851.3" fill="#9a1c1f"/><polygon points="128.5,1729.8 138.7,1729.8 138.7,1775 128.5,1775" fill="#b45a4e"/>
<polygon points="151.8,1719.6 161,1719.6 161,1834.6 156.5,1840.6 151.8,1840.6" fill="#9a1c1f"/><polygon points="151.8,1719.6 161,1719.6 161,1765.5 151.8,1771" fill="#b45a4e"/>
<polygon points="174.4,1737.1 184.1,1737.1 184.1,1852.1 179.6,1858.1 174.4,1858.1" fill="#9a1c1f"/><polygon points="174.4,1737.1 184.1,1737.1 184.1,1755 174.4,1758.5" fill="#b45a4e"/>
<polygon points="196.5,1730.1 206.2,1730.1 206.2,1845.3 201.7,1851.3 196.5,1851.3" fill="#9a1c1f"/><polygon points="196.5,1730.1 206.2,1730.1 206.2,1748 196.5,1750" fill="#b45a4e"/>
<polygon points="218.7,1714.7 228.1,1714.7 228.1,1829.8 223.6,1835.8 218.7,1835.8" fill="#9a1c1f"/><polygon points="218.7,1714.7 228.1,1714.7 228.1,1743.5 218.7,1745" fill="#b45a4e"/>
<g font-family="Liberation Sans, sans-serif" font-size="63" font-weight="bold">
<text x="62" y="1821" textLength="46.5" lengthAdjust="spacingAndGlyphs" fill="url(#lgray)" stroke="url(#lgray)" stroke-width="0.8">LA</text>
<rect x="122" y="1773.5" width="114" height="49" fill="#000"/><text x="123.4" y="1821" textLength="111" lengthAdjust="spacingAndGlyphs" fill="#1a6389" stroke="#1a6389" stroke-width="1.4">SOUND</text>
<text x="250.8" y="1821" textLength="134.2" lengthAdjust="spacingAndGlyphs" fill="url(#lgray)" stroke="url(#lgray)" stroke-width="0.8">PANELS</text>
</g>
</g>
</svg>
</body></html>
